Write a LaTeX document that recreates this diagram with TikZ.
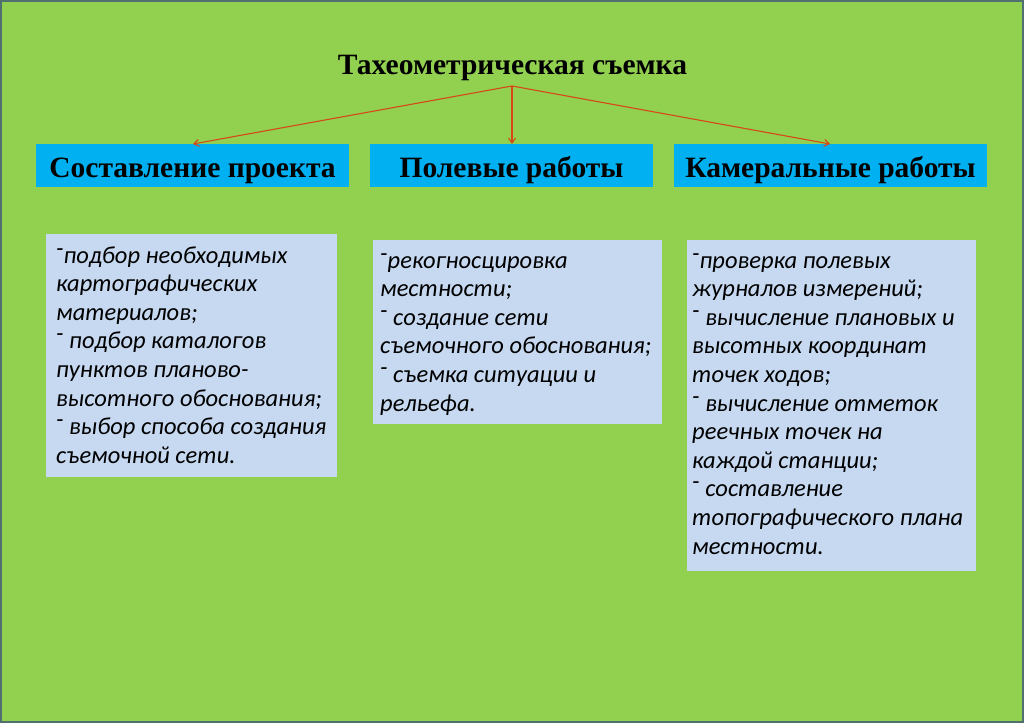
\documentclass[tikz,border=0pt]{standalone}
\usepackage{fontspec}
\setmainfont{Liberation Serif}
\newfontfamily\bodyfont{Carlito}
\usetikzlibrary{arrows.meta}
\definecolor{bggreen}{RGB}{146,208,80}
\definecolor{framecol}{RGB}{80,112,112}
\definecolor{headblue}{RGB}{0,176,240}
\definecolor{boxblue}{RGB}{198,217,241}
\definecolor{arrowred}{RGB}{214,72,24}
\newcommand{\mydash}{\raisebox{0.28em}{-}}
\newcommand{\listlines}[1]{\begin{tabular}[t]{@{}l@{}}#1\end{tabular}}
\tikzset{
  header/.style={fill=headblue, minimum height=43pt, inner sep=0pt},
  headtext/.style={anchor=base, inner sep=0pt, font=\bfseries\fontsize{29.5}{34}\selectfont},
  listbox/.style={fill=boxblue, inner sep=0pt},
  listtext/.style={anchor=base west, inner sep=0pt, font=\bodyfont\itshape\fontsize{24.5}{28.6}\selectfont},
  conn/.style={draw=arrowred, line width=1.1pt, -{Straight Barb[length=5pt,width=7pt]}}
}
\begin{document}
\begin{tikzpicture}[x=1pt,y=-1pt]
\useasboundingbox (0,0) rectangle (1024,723);
\fill[bggreen] (0,0) rectangle (1024,723);
\draw[framecol, line width=2pt] (1,1) rectangle (1023,722);

\node[headtext] (title) at (512.5,74) {Тахеометрическая съемка};
\coordinate (split) at (512,86);

\node[header, minimum width=313pt] (h1) at (192.5,165.5) {};
\node[header, minimum width=283pt] (h2) at (511.5,165.5) {};
\node[header, minimum width=313pt] (h3) at (830.5,165.5) {};
\node[headtext] (h1t) at (192.5,177) {Составление проекта};
\node[headtext] (h2t) at (511.5,177) {Полевые работы};
\node[headtext] (h3t) at (830.5,177) {Камеральные работы};

\coordinate (e1) at (193,144);
\coordinate (e2) at (512,144);
\coordinate (e3) at (830,144);
\draw[conn] (split) -- (e1);
\draw[conn] (split) -- (e2);
\draw[conn] (split) -- (e3);

\fill[listbox] (46,234) rectangle (337,477);
\node[listtext] (t1) at (56,263) {\listlines{\mydash подбор необходимых\\картографических\\материалов;\\\mydash\ подбор каталогов\\пунктов планово-\\высотного обоснования;\\\mydash\ выбор способа создания\\съемочной сети.}};

\fill[listbox] (373,240) rectangle (662,424);
\node[listtext] (t2) at (380,268) {\listlines{\mydash рекогносцировка\\местности;\\\mydash\ создание сети\\съемочного обоснования;\\\mydash\ съемка ситуации и\\рельефа.}};

\fill[listbox] (687,240) rectangle (976,571);
\node[listtext] (t3) at (692,268) {\listlines{\mydash проверка полевых\\журналов измерений;\\\mydash\ вычисление плановых и\\высотных координат\\точек ходов;\\\mydash\ вычисление отметок\\реечных точек на\\каждой станции;\\\mydash\ составление\\топографического плана\\местности.}};
\end{tikzpicture}
\end{document}
